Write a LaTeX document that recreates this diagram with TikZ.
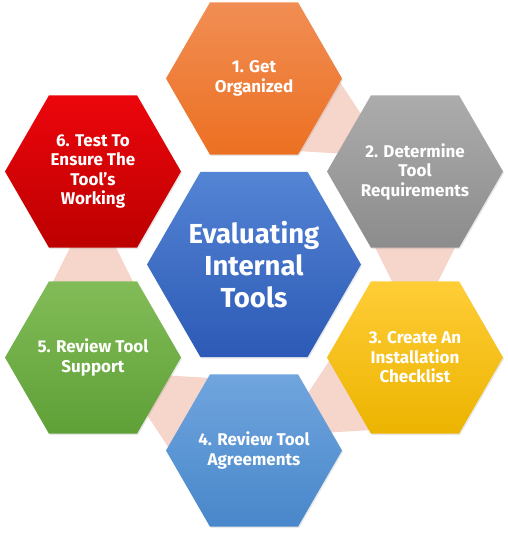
\documentclass[tikz,border=0pt]{standalone}
\usepackage{fontspec}
\newfontfamily\hexfont{Fira Sans}
\usetikzlibrary{calc,shadows}
\definecolor{pinkband}{RGB}{246,213,203}
\definecolor{orTop}{RGB}{241,142,84}\definecolor{orBot}{RGB}{236,112,34}
\definecolor{grTop}{RGB}{172,172,172}\definecolor{grBot}{RGB}{140,140,140}
\definecolor{yeTop}{RGB}{255,205,55}\definecolor{yeBot}{RGB}{236,180,0}
\definecolor{lbTop}{RGB}{112,165,222}\definecolor{lbBot}{RGB}{72,135,202}
\definecolor{gnTop}{RGB}{130,188,88}\definecolor{gnBot}{RGB}{95,160,55}
\definecolor{rdTop}{RGB}{236,6,12}\definecolor{rdBot}{RGB}{188,0,0}
\definecolor{cbTop}{RGB}{84,132,212}\definecolor{cbBot}{RGB}{44,90,182}
\newcommand\hexshapeat[2]{($(#1)+(0:#2)$) -- ($(#1)+(60:#2)$) -- ($(#1)+(120:#2)$) -- ($(#1)+(180:#2)$) -- ($(#1)+(240:#2)$) -- ($(#1)+(300:#2)$) -- cycle}
\newcommand\bandfromto[2]{%
  \coordinate (s#1#2) at ($(c#1)!70pt!(c#2)$);
  \coordinate (d#1#2) at ($(c#2)!70pt!(c#1)$);
  \fill[band] ($(s#1#2)!43pt!90:(c#2)$) -- ($(s#1#2)!43pt!-90:(c#2)$) -- ($(d#1#2)!20pt!90:(c#1)$) -- ($(d#1#2)!20pt!-90:(c#1)$) -- cycle;}
\begin{document}
\begin{tikzpicture}[x=1pt,y=-1pt,
  hexlabel/.style={text=white, align=center, font=\hexfont\bfseries\fontsize{17}{19.5}\selectfont},
  centerlabel/.style={text=white, align=center, font=\hexfont\bfseries\fontsize{27.5}{32}\selectfont},
  band/.style={fill=pinkband, draw=none},
  hexfill/.style 2 args={top color=#1, bottom color=#2, draw=none,
    drop shadow={opacity=0.18, shadow xshift=1pt, shadow yshift=-1.5pt}}]
\useasboundingbox (0,0) rectangle (508,533);
\coordinate (c0) at (254,264.5);
\coordinate (c1) at (254,78.5);
\coordinate (c2) at (415,171.5);
\coordinate (c3) at (415,357.5);
\coordinate (c4) at (254,450.5);
\coordinate (c5) at (93,357.5);
\coordinate (c6) at (93,171.5);
% pink flow bands
\bandfromto{1}{2}
\bandfromto{2}{3}
\bandfromto{3}{4}
\bandfromto{4}{5}
\bandfromto{5}{6}
% hexagons
\path[hexfill={orTop}{orBot}] \hexshapeat{c1}{88};
\path[hexfill={grTop}{grBot}] \hexshapeat{c2}{88};
\path[hexfill={yeTop}{yeBot}] \hexshapeat{c3}{88};
\path[hexfill={lbTop}{lbBot}] \hexshapeat{c4}{88};
\path[hexfill={gnTop}{gnBot}] \hexshapeat{c5}{88};
\path[hexfill={rdTop}{rdBot}] \hexshapeat{c6}{88};
\path[hexfill={cbTop}{cbBot}] \hexshapeat{c0}{107};
% labels
\node[centerlabel] (t0) at (c0) {Evaluating\\Internal\\Tools};
\node[hexlabel] (t1) at (c1) {1. Get\\Organized};
\node[hexlabel] (t2) at (c2) {2. Determine\\Tool\\Requirements};
\node[hexlabel] (t3) at (c3) {3. Create An\\Installation\\Checklist};
\node[hexlabel] (t4) at (c4) {4. Review Tool\\Agreements};
\node[hexlabel] (t5) at (c5) {5. Review Tool\\Support};
\node[hexlabel] (t6) at (c6) {6. Test To\\Ensure The\\Tool’s\\Working};
\end{tikzpicture}
\end{document}
